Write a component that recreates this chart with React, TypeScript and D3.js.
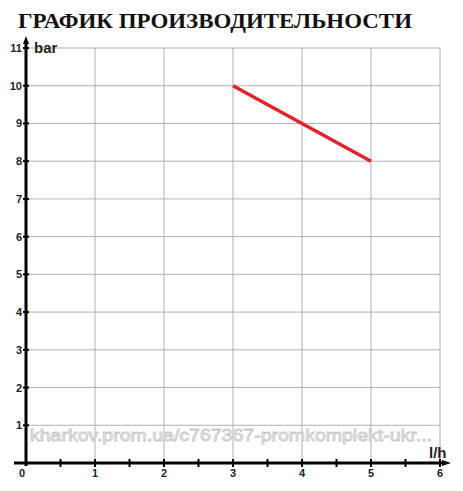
import React from "react";
import * as d3 from "d3";

const title = "ГРАФИК ПРОИЗВОДИТЕЛЬНОСТИ";
const xTicks = [0, 1, 2, 3, 4, 5, 6];
const xHalfTicks = [0.5, 1.5, 2.5, 3.5, 4.5, 5.5];
const yTicks = [1, 2, 3, 4, 5, 6, 7, 8, 9, 10, 11];
const flow = [3, 5];
const pressure = [10, 8];
const xUnit = "l/h";
const yUnit = "bar";
const watermark = "kharkov.prom.ua/c767367-promkomplekt-ukr...";

export default function App() {
  const W = 463, H = 491;
  const x = d3.scaleLinear().domain([0, 6]).range([26, 440]);
  const y = d3.scaleLinear().domain([0, 11]).range([463, 48]);
  const line = d3.line<number>().x((_, i) => x(flow[i])).y((d) => y(d));
  const lbl = { fontFamily: "Liberation Sans, Arial, sans-serif", fontWeight: 700, fill: "#222" } as const;
  return (
    <svg width={W} height={H} style={{ position: "absolute", left: 0, top: 0, background: "#fff" }}>
      <text x={18} y={28} fontFamily="Liberation Serif, Times New Roman, serif" fontWeight={700} fontSize={21} textLength={394} lengthAdjust="spacingAndGlyphs" fill="#111">{title}</text>
      {/* grid */}
      {xTicks.slice(1).map((t) => (
        <line key={"gx" + t} x1={x(t)} x2={x(t)} y1={y(11)} y2={y(0)} stroke="#b0b0b0" strokeWidth={1} />
      ))}
      {yTicks.map((t) => (
        <line key={"gy" + t} x1={x(0)} x2={x(6)} y1={y(t)} y2={y(t)} stroke="#b0b0b0" strokeWidth={1} />
      ))}
      {/* data line */}
      <path d={line(pressure) || ""} stroke="#e4222a" strokeWidth={3.5} fill="none" />
      {/* watermark */}
      <text x={30} y={441} fontFamily="Liberation Sans, Arial, sans-serif" fontSize={16} fill="#f4f4f4" stroke="#c8c8c8" strokeWidth={0.8} textLength={402} lengthAdjust="spacingAndGlyphs">{watermark}</text>
      {/* axes */}
      <line x1={x(0)} x2={x(0)} y1={y(0) + 3} y2={42} stroke="#000" strokeWidth={3} />
      <path d={`M${x(0) - 3},${44} L${x(0)},${36} L${x(0) + 3},${44} Z`} fill="#000" />
      <line x1={14} x2={444} y1={y(0)} y2={y(0)} stroke="#000" strokeWidth={3} />
      <path d={`M${442},${y(0) - 3} L${451},${y(0)} L${442},${y(0) + 3} Z`} fill="#000" />
      {yTicks.map((t) => (
        <line key={"ty" + t} x1={x(0) - 3} x2={x(0) + 3} y1={y(t)} y2={y(t)} stroke="#000" strokeWidth={2} />
      ))}
      {xTicks.slice(1).concat(xHalfTicks).map((t) => (
        <line key={"tx" + t} x1={x(t)} x2={x(t)} y1={y(0) - 4} y2={y(0) + 4} stroke="#000" strokeWidth={2} />
      ))}
      {yTicks.map((t) => (
        <text key={"ly" + t} x={x(0) - 4} y={y(t) + 4} textAnchor="end" fontSize={11} {...lbl}>{t}</text>
      ))}
      {xTicks.map((t) => (
        <text key={"lx" + t} x={t === 0 ? x(0) - 4 : x(t)} y={477} textAnchor="middle" fontSize={11} {...lbl}>{t}</text>
      ))}
      <text x={34} y={53} fontSize={15} {...lbl}>{yUnit}</text>
      <text x={429} y={458} fontSize={15} {...lbl}>{xUnit}</text>
    </svg>
  );
}
